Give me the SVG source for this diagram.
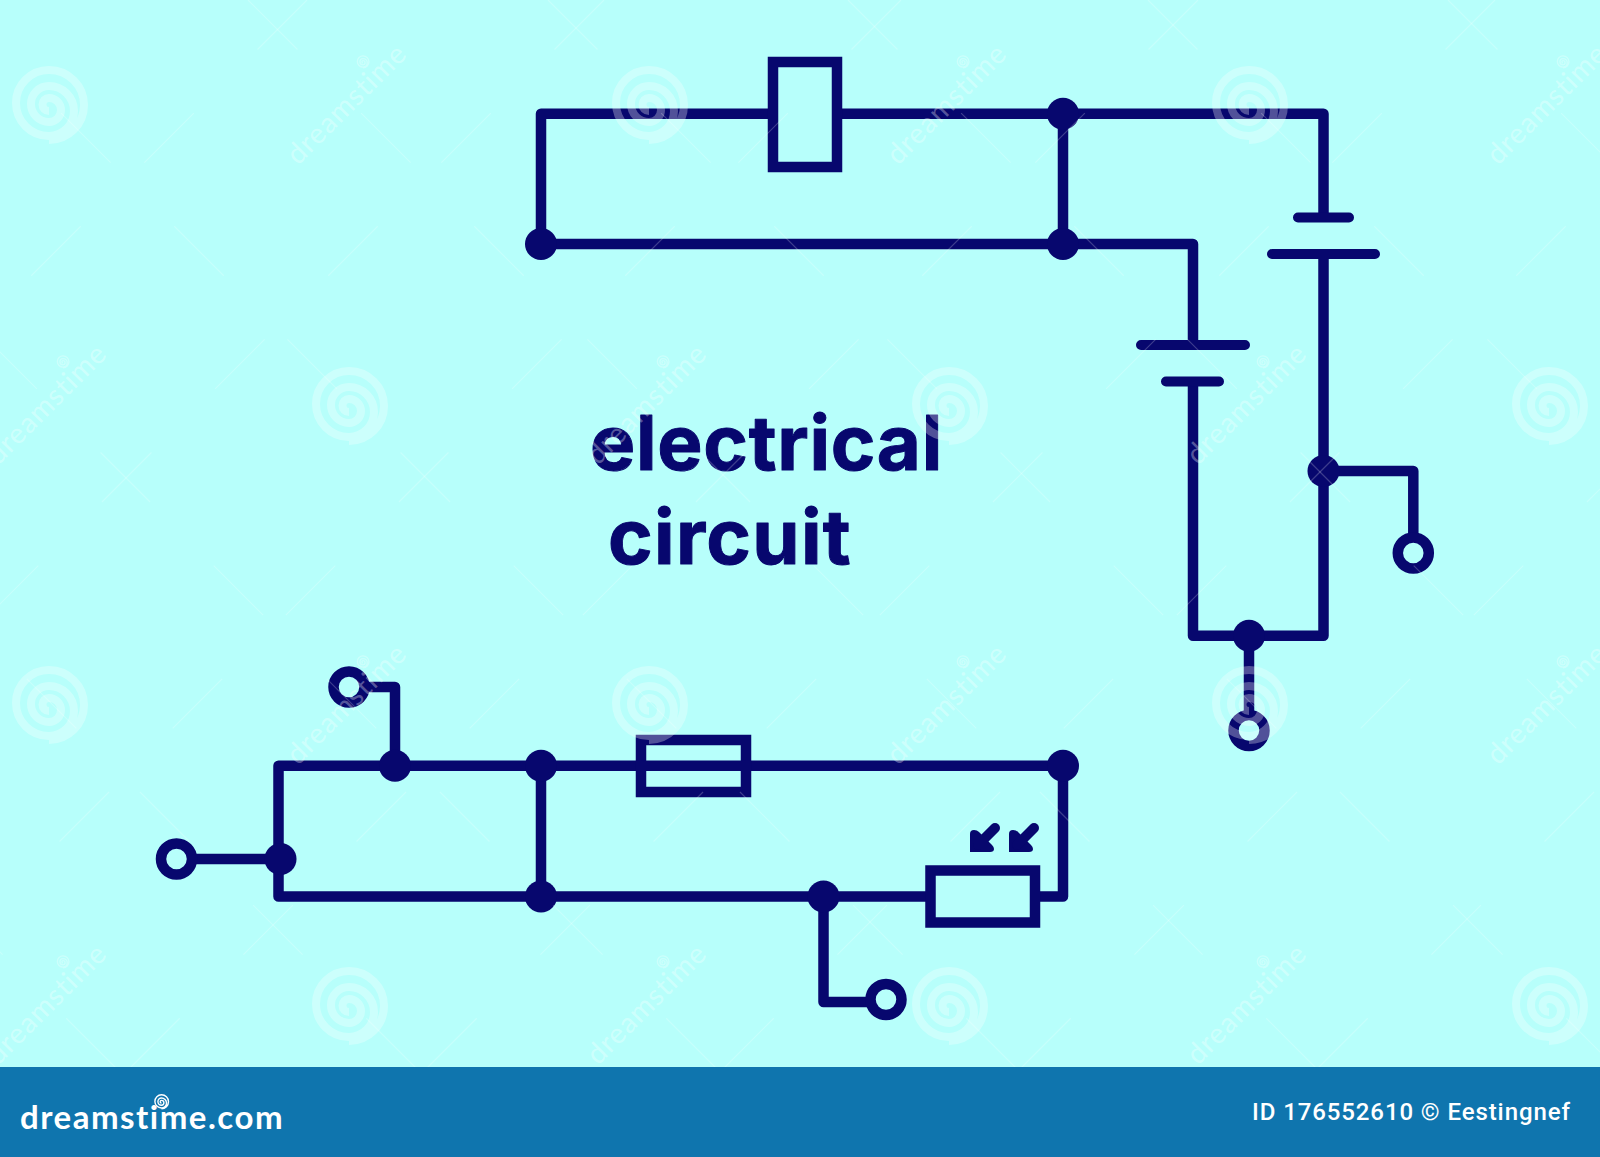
<svg xmlns="http://www.w3.org/2000/svg" width="1600" height="1157" viewBox="0 0 1600 1157">
<style>
.w{fill:none;stroke:#07076e;stroke-width:10.5;stroke-linejoin:round;stroke-linecap:butt}
.j{fill:#07076e}
.t{fill:#b7fffb;stroke:#07076e;stroke-width:10.5}
.c{fill:none;stroke:#07076e;stroke-width:10;stroke-linecap:round}
.b{fill:none;stroke:#07076e;stroke-width:10.5;stroke-linejoin:miter}
.title{font-family:Inter,"Liberation Sans",sans-serif;font-weight:700;font-size:76px;fill:#07076e;stroke:#07076e;stroke-width:1;stroke-linejoin:round}
.wm{font-family:Lato,"DejaVu Sans",sans-serif;font-size:28.500px;fill:#fff;fill-opacity:.32;letter-spacing:1px}
.sw{fill:none;stroke:#fff;stroke-opacity:.3;stroke-width:8}
.fl{fill:none;stroke:#fff;stroke-width:7}
.diag{fill:none;stroke:#fff;stroke-opacity:.22;stroke-width:1.200;stroke-dasharray:70 90}
</style>
<defs>
<path id="swirl" d="M0,5A6.500,6.500 0 0 1 0,-8A12,12 0 0 1 0,16A18,18 0 0 1 0,-20A25,25 0 0 1 0,30A33,33 0 0 1 0,-36A35,35 0 0 1 0,34"/>
<g id="mark"><text class="wm" transform="rotate(-45)" x="0" y="0">dreamstime</text><use class="sw" href="#swirl" transform="translate(65,-104) scale(.17)"/></g>
</defs>
<rect id="bg" width="1600" height="1157" fill="#b7fffb"/>
<g id="connectors">
<path class="w" d="M771,113.700H541V244H1063M839,113.700H1323.500V217M1063,113.700V244M1063,244H1193V345"/>
<path class="w" d="M1323.500,254V635.700H1193V381M1249,635.700V730"/>
<path class="w" d="M1323.500,471H1413.300V553"/>
<path class="w" d="M349,687H395V765.700M278.500,859V765.700H638M750,765.700H1063V896.500H1040"/>
<path class="w" d="M176.500,859H280.500M278.500,859V896.500H926M541,765.700V896.500M823.500,896.500V1002H886"/>
</g>
<g id="relay"><rect class="b" x="773" y="62" width="64" height="105" fill="#b7fffb"/></g>
<g id="battery-1"><path class="c" d="M1298,217.500H1349M1272,254H1375"/></g>
<g id="battery-2"><path class="c" d="M1141,345H1245M1166,381.500H1219"/></g>
<g id="fuse"><rect class="b" x="641" y="740" width="105" height="52"/><path class="w" d="M641,765.700H746"/></g>
<g id="photoresistor">
<rect class="b" x="930.500" y="870.500" width="104.500" height="52"/>
<path class="j" d="M970,852V834Q970,830 974,830Q977,830 979,832L992,845Q994,847 994,849Q994,852 990,852Z"/>
<path class="c" d="M978,845L995,828"/>
<path class="j" d="M1009,852V834Q1009,830 1013,830Q1016,830 1018,832L1031,845Q1033,847 1033,849Q1033,852 1029,852Z"/>
<path class="c" d="M1017,845L1034,828"/>
</g>
<g id="junctions">
<circle class="j" cx="541" cy="244" r="16"/><circle class="j" cx="1063" cy="113.700" r="16"/><circle class="j" cx="1063" cy="244" r="16"/>
<circle class="j" cx="1323.500" cy="471" r="16"/><circle class="j" cx="1249" cy="635.700" r="16"/>
<circle class="j" cx="395" cy="765.700" r="16"/><circle class="j" cx="541" cy="765.700" r="16"/><circle class="j" cx="1063" cy="765.700" r="16"/>
<circle class="j" cx="280.500" cy="859" r="16"/><circle class="j" cx="541" cy="896.500" r="16"/><circle class="j" cx="823.500" cy="896.500" r="16"/>
</g>
<g id="terminals">
<circle class="t" cx="1413.300" cy="553" r="15.500"/><circle class="t" cx="1249" cy="730.500" r="15.500"/>
<circle class="t" cx="349" cy="687" r="15.500"/><circle class="t" cx="176.500" cy="859" r="15.500"/><circle class="t" cx="886" cy="999.500" r="15.500"/>
</g>
<g id="title">
<text class="title" x="590" y="470" letter-spacing=".7">electrical</text>
<text class="title" x="608" y="564" letter-spacing="1.300">circuit</text>
</g>
<g id="watermarks">
<path class="diag" d="M307,0L-850,1157M604,0L-553,1157M901,0L-256,1157M1198,0L41,1157M1495,0L338,1157M1792,0L635,1157M2089,0L932,1157M2386,0L1229,1157M2683,0L1526,1157"/>
<path class="diag" d="M-952,0L205,1157M-652,0L505,1157M-352,0L805,1157M-52,0L1105,1157M248,0L1405,1157M548,0L1705,1157M848,0L2005,1157M1148,0L2305,1157M1448,0L2605,1157"/>
<use class="sw" href="#swirl" x="49" y="106"/><use class="sw" href="#swirl" x="649" y="106"/><use class="sw" href="#swirl" x="1249" y="106"/>
<use class="sw" href="#swirl" x="349" y="407"/><use class="sw" href="#swirl" x="949" y="407"/><use class="sw" href="#swirl" x="1549" y="407"/>
<use class="sw" href="#swirl" x="49" y="706"/><use class="sw" href="#swirl" x="649" y="706"/><use class="sw" href="#swirl" x="1249" y="706"/>
<use class="sw" href="#swirl" x="349" y="1007"/><use class="sw" href="#swirl" x="949" y="1007"/><use class="sw" href="#swirl" x="1549" y="1007"/>
<use href="#mark" x="298" y="166"/><use href="#mark" x="898" y="166"/><use href="#mark" x="1498" y="166"/>
<use href="#mark" x="-2" y="466"/><use href="#mark" x="598" y="466"/><use href="#mark" x="1198" y="466"/>
<use href="#mark" x="298" y="766"/><use href="#mark" x="898" y="766"/><use href="#mark" x="1498" y="766"/>
<use href="#mark" x="-2" y="1066"/><use href="#mark" x="598" y="1066"/><use href="#mark" x="1198" y="1066"/>
</g>
<g id="footer">
<rect x="0" y="1067" width="1600" height="90" fill="#0f75ae"/>
<text x="20" y="1129" font-family="Lato,'DejaVu Sans',sans-serif" font-weight="700" font-size="33" letter-spacing="1.500" fill="#fff">dreamstime.com</text>
<use class="fl" href="#swirl" transform="translate(161.500,1102) scale(.2)"/>
<text x="1252" y="1120" font-family="Roboto,sans-serif" font-weight="500" font-size="24" letter-spacing=".9" fill="#fff">ID 176552610 © Eestingnef</text>
</g>
</svg>
